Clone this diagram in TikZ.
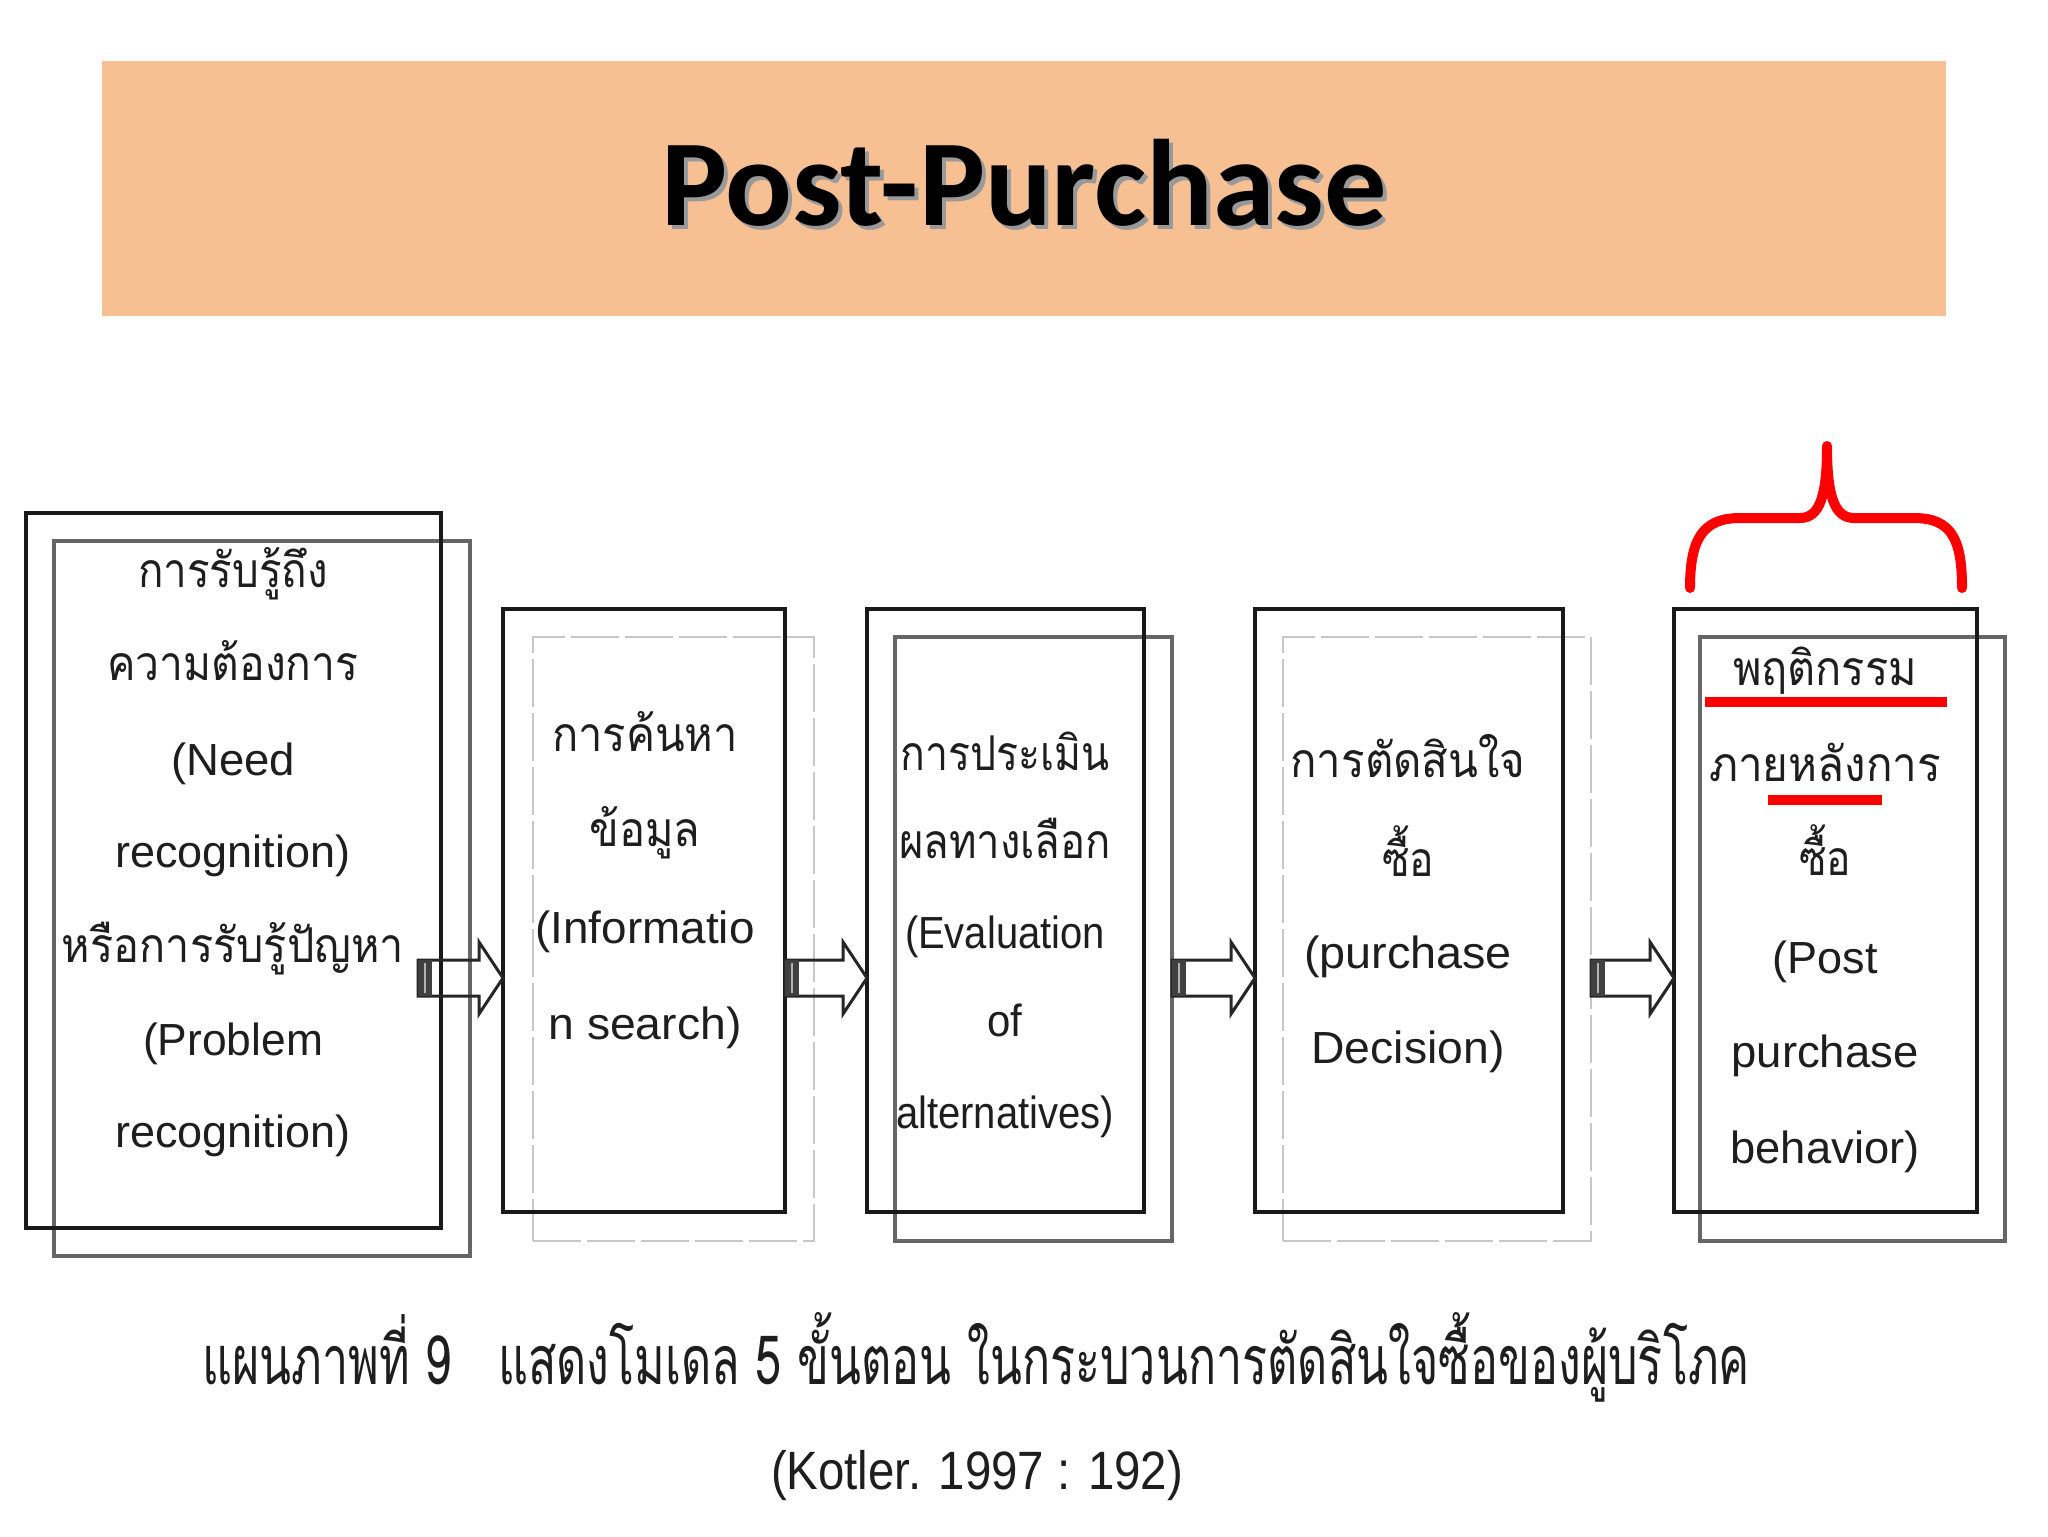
\documentclass[tikz,border=0pt]{standalone}
\usepackage{fontspec}
\usepackage{graphicx}
\setmainfont{Liberation Sans}
\newfontfamily\thaifont[Script=Thai]{Loma}
\newfontfamily\titlefont{Carlito}
\usetikzlibrary{calc,fit}
\newdimen\pxu \pxu=0.5pt
\newcommand\fw[2]{\resizebox{#1\pxu}{\height}{#2}}
\definecolor{banner}{HTML}{F7C093}
\definecolor{txt}{HTML}{1E1E1E}
\newcommand\blockarrow[2]{%
  \draw[arrowbody] let \p1=(#1), \p2=(#2) in
    (\x1,\y1+9pt) -- (\x2-12pt,\y1+9pt) -- (\x2-12pt,\y1+18pt) -- (\x2,\y1)
    -- (\x2-12pt,\y1-18pt) -- (\x2-12pt,\y1-9pt) -- (\x1,\y1-9pt) -- cycle;
  \fill[black!75] let \p1=(#1) in (\x1,\y1-9pt) rectangle (\x1+7pt,\y1+9pt);
  \draw[black!30,line width=1.2pt] let \p1=(#1) in (\x1+3.5pt,\y1-7.5pt) -- (\x1+3.5pt,\y1+7.5pt);
}
\begin{document}
\begin{tikzpicture}[x=0.5pt,y=-0.5pt,
  outerbox/.style={draw=black!90,line width=2pt,inner sep=0pt,outer sep=0pt},
  innersolid/.style={draw=black!60,line width=1.9pt,inner sep=0pt,outer sep=0pt},
  innerfaint/.style={draw=black!22,line width=1.3pt,dash pattern=on 24pt off 3pt,inner sep=0pt,outer sep=0pt},
  en/.style={font=\fontsize{22.5}{27}\selectfont,text=txt,inner sep=0pt,anchor=base},
  th/.style={font=\thaifont\fontsize{24}{28}\selectfont,text=txt,inner sep=0pt,anchor=base},
  arrowbody/.style={draw=black!85,line width=1.5pt,line join=miter},
  redmark/.style={draw=red,line width=5pt},
]
\fill[white] (0,0) rectangle (2048,1536);
\useasboundingbox (0,0) rectangle (2048,1536);

% banner
\node[fill=banner,inner sep=0pt,outer sep=0pt,fit={(102,61)(1946,316)}] (banner) {};
\node[anchor=base,inner sep=0pt,font=\titlefont\bfseries\fontsize{61.5}{70}\selectfont,text=black!40] (titleshadow) at (1028,229) {\fw{725}{Post-Purchase}};
\node[anchor=base,inner sep=0pt,font=\titlefont\bfseries\fontsize{61.5}{70}\selectfont,text=black] (title) at (1024,225) {\fw{725}{Post-Purchase}};

% boxes
\node[innersolid,fit={(54,541)(470,1256)}] (b1i) {};
\node[outerbox,fit={(26,513)(441,1228)}] (b1o) {};
\node[innerfaint,fit={(533,637)(814,1241)}] (b2i) {};
\node[outerbox,fit={(503,609)(785,1212)}] (b2o) {};
\node[innersolid,fit={(895,637)(1172,1241)}] (b3i) {};
\node[outerbox,fit={(867,609)(1144,1212)}] (b3o) {};
\node[innerfaint,fit={(1283,637)(1591,1241)}] (b4i) {};
\node[outerbox,fit={(1255,609)(1563,1212)}] (b4o) {};
\node[innersolid,fit={(1700,637)(2005,1241)}] (b5i) {};
\node[outerbox,fit={(1674,609)(1977,1212)}] (b5o) {};

% arrows
\coordinate (a1s) at (418,978);
\coordinate (a2s) at (b2o.east |- a1s);
\coordinate (a3s) at (b3i.east |- a1s);
\coordinate (a4s) at (b4i.east |- a1s);
\blockarrow{a1s}{b2o.west |- a1s}
\blockarrow{a2s}{b3o.west |- a1s}
\blockarrow{a3s}{b4o.west |- a1s}
\blockarrow{a4s}{b5o.west |- a1s}

% box 1 text
\node[th] (t1a) at (233,587) {\fw{190}{การรับรู้ถึง}};
\node[th] (t1b) at (233,680) {\fw{251}{ความต้องการ}};
\node[en] (t1c) at (233,775) {\fw{124}{(Need}};
\node[en] (t1d) at (233,867) {\fw{235}{recognition)}};
\node[th] (t1e) at (233,962) {\fw{342}{หรือการรับรู้ปัญหา}};
\node[en] (t1f) at (233,1055) {\fw{180}{(Problem}};
\node[en] (t1g) at (233,1147) {\fw{235}{recognition)}};
% box 2 text
\node[th] (t2a) at (645,751) {\fw{186}{การค้นหา}};
\node[th] (t2b) at (645,846) {\fw{111}{ข้อมูล}};
\node[en] (t2c) at (645,943) {\fw{219}{(Informatio}};
\node[en] (t2d) at (645,1039) {\fw{193}{n search)}};
% box 3 text
\node[th] (t3a) at (1005,770) {\fw{209}{การประเมิน}};
\node[th] (t3b) at (1005,858) {\fw{212}{ผลทางเลือก}};
\node[en] (t3c) at (1005,948) {\fw{200}{(Evaluation}};
\node[en] (t3d) at (1005,1036) {\fw{35}{of}};
\node[en] (t3e) at (1005,1128) {\fw{218}{alternatives)}};
% box 4 text
\node[th] (t4a) at (1408,777) {\fw{235}{การตัดสินใจ}};
\node[th] (t4b) at (1408,876) {\fw{52}{ซื้อ}};
\node[en] (t4c) at (1408,968) {\fw{208}{(purchase}};
\node[en] (t4d) at (1408,1063) {\fw{193}{Decision)}};
% box 5 text
\node[th] (t5a) at (1825,685) {\fw{184}{พฤติกรรม}};
\node[th] (t5b) at (1825,781) {\fw{232}{ภายหลังการ}};
\node[th] (t5c) at (1825,875) {\fw{52}{ซื้อ}};
\node[en] (t5d) at (1825,973) {\fw{105}{(Post}};
\node[en] (t5e) at (1825,1067) {\fw{187}{purchase}};
\node[en] (t5f) at (1825,1163) {\fw{189}{behavior)}};

% red marks
\draw[redmark] (1705,702) -- (1947,702);
\draw[redmark] (1768,800) -- (1882,800);
\draw[redmark,line cap=round,line join=round] (1690,588) .. controls (1690,540) and (1702,518) .. (1740,518) -- (1800,518) .. controls (1820,518) and (1827,495) .. (1827,446) .. controls (1827,495) and (1834,518) .. (1854,518) -- (1914,518) .. controls (1952,518) and (1962,540) .. (1962,588);

% caption
\node[anchor=base,inner sep=0pt,font=\thaifont\fontsize{34}{40}\selectfont,text=txt] (cap) at (976,1384) {\fw{1548}{แผนภาพที่ 9\quad แสดงโมเดล 5 ขั้นตอน ในกระบวนการตัดสินใจซื้อของผู้บริโภค}};
\node[anchor=base,inner sep=0pt,font=\fontsize{27}{32}\selectfont,text=txt] (src) at (977,1489) {\fw{412}{(Kotler. 1997 : 192)}};
\end{tikzpicture}
\end{document}
